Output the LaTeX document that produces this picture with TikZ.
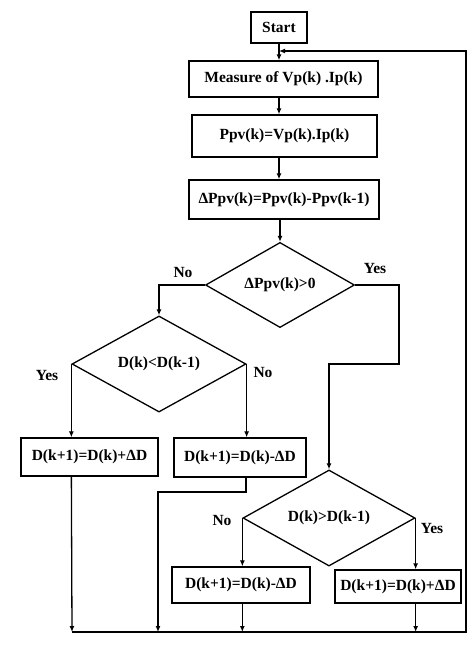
\documentclass[tikz,border=0pt]{standalone}
\usepackage{fontspec}
\setmainfont{Liberation Serif}
\usetikzlibrary{shapes.geometric,arrows.meta}
\begin{document}
\begin{tikzpicture}[x=1pt,y=-1pt,
  every node/.style={font=\fontsize{15.5}{17}\selectfont\bfseries},
  box/.style={draw,line width=1.3pt,inner sep=0pt},
  dia/.style={draw,diamond,line width=1.3pt,inner sep=0pt},
  conn/.style={line width=1.3pt},
  arr/.style={conn,-{Latex[length=6pt,width=5pt]}},
  lbl/.style={inner sep=0pt}]
\useasboundingbox[fill=white] (0,0) rectangle (474,662);

% process boxes
\node[box,minimum width=56pt,minimum height=31pt] (start) at (279,27.5) {Start};
\node[box,minimum width=189pt,minimum height=36pt] (meas) at (283.5,79) {Measure of Vp(k) .Ip(k)};
\node[box,minimum width=185pt,minimum height=42pt] (ppv) at (284.5,136) {Ppv(k)=Vp(k).Ip(k)};
\node[box,minimum width=190pt,minimum height=39pt] (dppv) at (284,199.5) {ΔPpv(k)=Ppv(k)-Ppv(k-1)};

% decisions
\node[dia,minimum width=149pt,minimum height=76pt] (d1) at (280,285) {ΔPpv(k)>0};
\node[dia,minimum width=174pt,minimum height=71pt] (d2) at (159,364) {D(k)<D(k-1)};
\node[dia,minimum width=172pt,minimum height=90pt] (d3) at (329,518) {D(k)>D(k-1)};

% update boxes
\node[box,minimum width=137pt,minimum height=38pt] (b1) at (89.5,457) {D(k+1)=D(k)+ΔD};
\node[box,minimum width=132pt,minimum height=39pt] (b2) at (240,457.5) {D(k+1)=D(k)-ΔD};
\node[box,minimum width=138pt,minimum height=36pt] (b3) at (241,585) {D(k+1)=D(k)-ΔD};
\node[box,minimum width=126pt,minimum height=33pt] (b4) at (398,586.5) {D(k+1)=D(k)+ΔD};

% labels
\node[lbl] (l1) at (183,272) {No};
\node[lbl] (l2) at (375,268) {Yes};
\node[lbl] (l3) at (47,375) {Yes};
\node[lbl] (l4) at (263,372) {No};
\node[lbl] (l5) at (222,520) {No};
\node[lbl] (l6) at (432,528) {Yes};

% helper coordinates
\coordinate (fb) at (279,51);
\coordinate (r1) at (399,364);
\coordinate (m1) at (246,492);
\coordinate (m2) at (158,492);
\coordinate (bl) at (72,632);
\coordinate (br) at (466,632);
\coordinate (tr) at (466,51);

% connectors
\draw[arr] (start.south) -- (start.south |- meas.north);
\draw[arr] (start.south |- meas.south) -- (start.south |- ppv.north);
\draw[arr] (start.south |- ppv.south) -- (start.south |- dppv.north);
\draw[arr] (d1.north |- dppv.south) -- (d1.north);
\draw[arr] (d1.west) -| (d2.north);
\draw[arr] (d1.east) -| (r1) -| (d3.north);
\draw[arr] (d2.west) -- (d2.west |- b1.north);
\draw[arr] (d2.east) -- (d2.east |- b2.north);
\draw[arr] (d2.west |- b1.south) -- (bl);
\draw[arr] (m1 |- b2.south) -- (m1) -- (m2) -- (m2 |- bl);
\draw[arr] (d3.west) -- (d3.west |- b3.north);
\draw[arr] (d3.east) -- (d3.east |- b4.north);
\draw[arr] (d3.west |- b3.south) -- (d3.west |- bl);
\draw[arr] (d3.east |- b4.south) -- (d3.east |- bl);
\draw[arr] (bl) -- (br) -- (tr) -- (fb);
\end{tikzpicture}
\end{document}
